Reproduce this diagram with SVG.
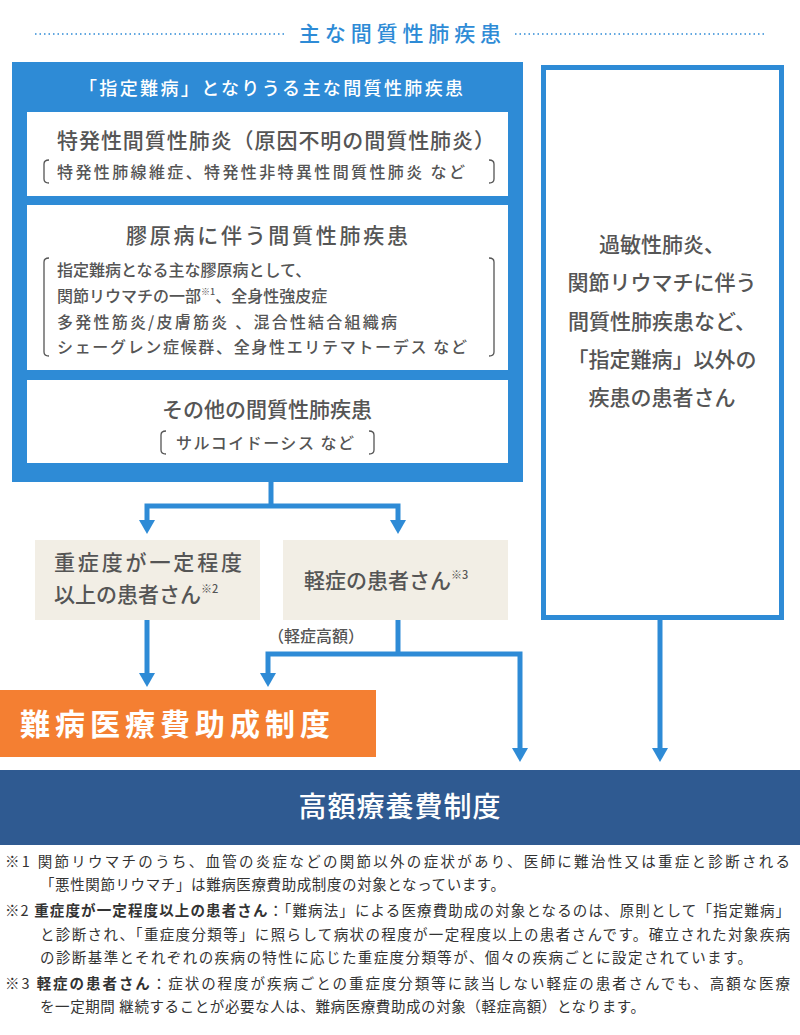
<svg xmlns="http://www.w3.org/2000/svg" width="800" height="1035" viewBox="0 0 800 1035">
<style>
text{font-family:"Noto Sans CJK JP","Noto Sans",sans-serif}
.g{fill:#555}
.w{fill:#fff}
.fn{fill:#333;font-size:14.5px}
.con{stroke:#2e8bd6;stroke-width:5;fill:none}
.ah{fill:#2e8bd6}
.br{stroke:#555;stroke-width:1.3;fill:none}
</style>
<rect width="800" height="1035" fill="#fff"/>
<g id="title">
<line x1="35" y1="34" x2="285" y2="34" stroke="#2e8bd6" stroke-width="1.5" stroke-dasharray="1.5,3"/>
<line x1="515" y1="34" x2="765" y2="34" stroke="#2e8bd6" stroke-width="1.5" stroke-dasharray="1.5,3"/>
<text x="400" y="41" font-size="21" text-anchor="middle" fill="#2e8bd6" font-weight="500" textLength="202">主な間質性肺疾患</text>
</g>
<g id="shitei">
<rect x="12" y="62" width="511" height="420" fill="#2e8bd6"/>
<text x="79" y="95" font-size="18" class="w" font-weight="500" textLength="384">「指定難病」となりうる主な間質性肺疾患</text>
</g>
<g id="idiopathic">
<rect x="27" y="112" width="481" height="84" fill="#fff"/>
<text x="57" y="148" font-size="21" class="g" font-weight="500" textLength="438">特発性間質性肺炎（原因不明の間質性肺炎）</text>
<path class="br" d="M49,160 q-5,0 -5,4 v15 q0,4 5,4 M489,160 q5,0 5,4 v15 q0,4 -5,4"/>
<text x="57" y="178" font-size="16" class="g" font-weight="500" textLength="408">特発性肺線維症、特発性非特異性間質性肺炎 など</text>
</g>
<g id="collagen">
<rect x="27" y="205" width="481" height="165" fill="#fff"/>
<text x="126" y="243" font-size="21" class="g" font-weight="500" textLength="282">膠原病に伴う間質性肺疾患</text>
<path class="br" d="M49,258 q-5,0 -5,4 v90 q0,4 5,4 M489,258 q5,0 5,4 v90 q0,4 -5,4"/>
<g font-size="16" class="g" font-weight="500">
<text x="57" y="276">指定難病となる主な膠原病として、</text>
<text x="57" y="302">関節リウマチの一部<tspan font-size="9" dy="-7">※1</tspan><tspan dy="7">、全身性強皮症</tspan></text>
<text x="57" y="328" textLength="340">多発性筋炎/皮膚筋炎 、混合性結合組織病</text>
<text x="57" y="353" textLength="410">シェーグレン症候群、全身性エリテマトーデス など</text>
</g>
</g>
<g id="other">
<rect x="27" y="380" width="481" height="83" fill="#fff"/>
<text x="267" y="417" font-size="21" text-anchor="middle" class="g" font-weight="500">その他の間質性肺疾患</text>
<path class="br" d="M166,431 q-5,0 -5,4 v15 q0,4 5,4 M369,431 q5,0 5,4 v15 q0,4 -5,4"/>
<text x="176" y="449" font-size="16" class="g" font-weight="500" textLength="178">サルコイドーシス など</text>
</g>
<g id="other-diseases">
<rect x="543.5" y="67.5" width="238" height="550" fill="#fff" stroke="#2e8bd6" stroke-width="5"/>
<g font-size="21" text-anchor="middle" class="g" font-weight="500">
<text x="662" y="252">過敏性肺炎、</text>
<text x="662" y="290">関節リウマチに伴う</text>
<text x="662" y="329">間質性肺疾患など、</text>
<text x="662" y="367">「指定難病」以外の</text>
<text x="662" y="405">疾患の患者さん</text>
</g>
</g>
<g id="severe">
<rect x="35" y="540" width="225" height="80" fill="#f2eee5"/>
<text x="54" y="570" font-size="21" class="g" font-weight="500" textLength="188">重症度が一定程度</text>
<text x="54" y="602" font-size="21" class="g" font-weight="500">以上の患者さん<tspan font-size="11" dy="-9">※2</tspan></text>
</g>
<g id="mild">
<rect x="283" y="540" width="225" height="80" fill="#f2eee5"/>
<text x="304" y="588" font-size="21" class="g" font-weight="500">軽症の患者さん<tspan font-size="11" dy="-9">※3</tspan></text>
</g>
<g id="nanbyo">
<rect x="0" y="690" width="376" height="67" fill="#f47f32"/>
<text x="20" y="735" font-size="30" class="w" font-weight="700" textLength="310">難病医療費助成制度</text>
</g>
<g id="kogaku">
<rect x="0" y="770" width="800" height="75" fill="#2f5a91"/>
<text x="400" y="817" font-size="28" class="w" font-weight="500" text-anchor="middle" letter-spacing="1">高額療養費制度</text>
</g>
<g id="connectors">
<path class="con" d="M271,482 V506"/>
<path class="con" d="M147,522 V506 H398 V522"/>
<path class="con" d="M147,620 V676"/>
<path class="con" d="M398,620 V654"/>
<path class="con" d="M268,676 V654 H520 V752"/>
<path class="con" d="M660,618 V752"/>
<polygon class="ah" points="139,520 155,520 147,534"/>
<polygon class="ah" points="390,520 406,520 398,534"/>
<polygon class="ah" points="139,673 155,673 147,687"/>
<polygon class="ah" points="260,673 276,673 268,687"/>
<polygon class="ah" points="512,748 528,748 520,762"/>
<polygon class="ah" points="652,748 668,748 660,762"/>
<text x="268" y="642" font-size="16" class="g" font-weight="500">（軽症高額）</text>
</g>
<g id="footnotes" class="fn">
<text x="5" y="867" textLength="785">※1 関節リウマチのうち、血管の炎症などの関節以外の症状があり、医師に難治性又は重症と診断される</text>
<text x="40" y="890" textLength="465">「悪性関節リウマチ」は難病医療費助成制度の対象となっています。</text>
<text x="5" y="916" textLength="785">※2 <tspan font-weight="700">重症度が一定程度以上の患者さん</tspan>：「難病法」による医療費助成の対象となるのは、原則として「指定難病」</text>
<text x="40" y="940" textLength="750">と診断され、「重症度分類等」に照らして病状の程度が一定程度以上の患者さんです。確立された対象疾病</text>
<text x="40" y="963" textLength="712">の診断基準とそれぞれの疾病の特性に応じた重症度分類等が、個々の疾病ごとに設定されています。</text>
<text x="5" y="989" textLength="785">※3 <tspan font-weight="700">軽症の患者さん</tspan>：症状の程度が疾病ごとの重症度分類等に該当しない軽症の患者さんでも、高額な医療</text>
<text x="40" y="1012" textLength="605">を一定期間 継続することが必要な人は、難病医療費助成の対象（軽症高額）となります。</text>
</g>
</svg>
